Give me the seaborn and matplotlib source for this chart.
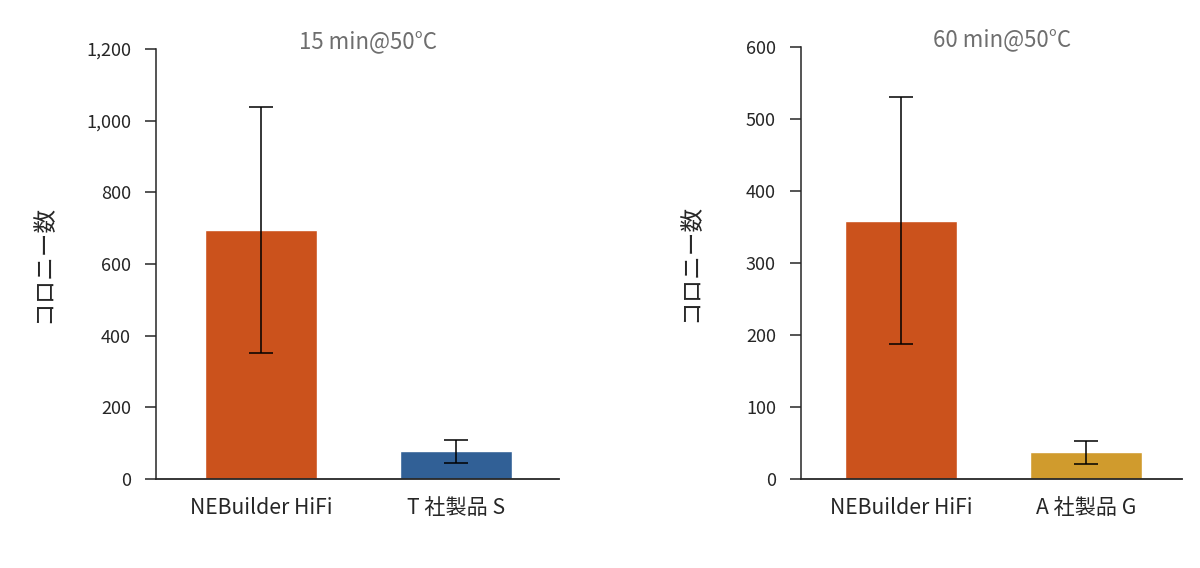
import numpy as np
import pandas as pd
import seaborn as sns
from matplotlib import pyplot as plt
from matplotlib.ticker import StrMethodFormatter

# %% Data
left_names = ["NEBuilder HiFi", "T 社製品 S"]
left_means = [695, 78]
left_errs = [342, 32]
left_title = "15 min@50°C"

right_names = ["NEBuilder HiFi", "A 社製品 G"]
right_means = [359, 37]
right_errs = [171, 16]
right_title = "60 min@50°C"

ylabel = "コロニー数"

# %% Style
sns.set_style("ticks")
plt.rcParams["font.family"] = ["Noto Sans CJK JP", "DejaVu Sans"]

orange = "#cb521c"
blue = "#316096"
gold = "#d09b2d"


def panel(ax, names, means, errs, colors, title, width, ymax, step, xlim, labx):
    df = pd.DataFrame({"name": names, "value": means})
    sns.barplot(data=df, x="name", y="value", hue="name", palette=colors,
                width=width, errorbar=None, legend=False, ax=ax, saturation=1)
    ax.errorbar(np.arange(len(means)), means, yerr=errs, fmt="none",
                ecolor="black", elinewidth=1.1, capsize=8.6, capthick=1.1)
    ax.set_xlim(*xlim)
    ax.set_ylim(0, ymax)
    ax.set_yticks(np.arange(0, ymax + 1, step))
    ax.yaxis.set_major_formatter(StrMethodFormatter("{x:,.0f}"))
    ax.set_xlabel("")
    ax.set_ylabel(ylabel, fontsize=17)
    ax.yaxis.set_label_coords(labx, 0.5)
    ax.tick_params(axis="y", length=8, width=1.1, labelsize=13, pad=10)
    ax.tick_params(axis="x", length=0, labelsize=15.2, pad=13)
    for s in ["top", "right"]:
        ax.spines[s].set_visible(False)
    ax.spines["left"].set_linewidth(1.1)
    ax.spines["bottom"].set_linewidth(1.3)
    ax.text(0.527, 0.99, title, transform=ax.transAxes, ha="center",
            va="bottom", fontsize=16, color="#6e6e6e")


fig = plt.figure(figsize=(12, 5.68), dpi=100)
ax1 = fig.add_axes([0.13, 0.1567, 0.3358, 0.757])
ax2 = fig.add_axes([0.6675, 0.1567, 0.3175, 0.7606])

panel(ax1, left_names, left_means, left_errs, [orange, blue], left_title,
      0.574, 1200, 200, (-0.538, 1.528), -0.25)
panel(ax2, right_names, right_means, right_errs, [orange, gold], right_title,
      0.605, 600, 100, (-0.54, 1.519), -0.26)

plt.savefig("out.png", dpi=100)
